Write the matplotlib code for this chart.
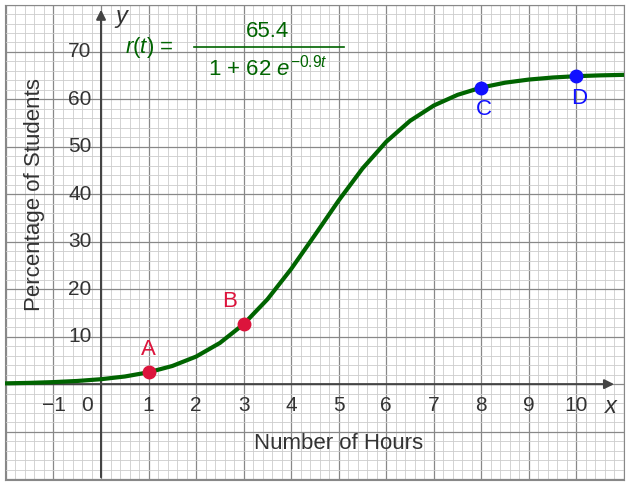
import matplotlib.pyplot as plt
import numpy as np

plt.rcParams["font.family"] = ["Liberation Sans", "DejaVu Sans"]
plt.rcParams["mathtext.fontset"] = "custom"
plt.rcParams["mathtext.rm"] = "Liberation Sans"
plt.rcParams["mathtext.it"] = "Liberation Sans:italic"

# curve samples
t_vals = [-2.0, -1.5, -1.0, -0.5, 0.0, 0.5, 1.0, 1.5, 2.0, 2.5, 3.0, 3.5, 4.0, 4.5, 5.0,
          5.5, 6.0, 6.5, 7.0, 7.5, 8.0, 8.5, 9.0, 9.5, 10.0, 10.5, 11.0]
r_vals = [0.17, 0.27, 0.43, 0.67, 1.04, 1.61, 2.50, 3.83, 5.81, 8.68, 12.65, 17.88, 24.28,
          31.44, 38.72, 45.45, 51.09, 55.49, 58.72, 60.97, 62.51, 63.53, 64.19, 64.62,
          64.90, 65.07, 65.18]

pt_labels = ["A", "B", "C", "D"]
pt_t = [1, 3, 8, 10]
pt_r = [2.5, 12.65, 62.51, 64.90]
pt_colors = ["#dc143c", "#dc143c", "#1010ff", "#1010ff"]

x_ticks = [-1, 0, 1, 2, 3, 4, 5, 6, 7, 8, 9, 10]
y_ticks = [10, 20, 30, 40, 50, 60, 70]

fig = plt.figure(figsize=(6.29, 4.87), dpi=100)
ax = fig.add_axes([5 / 629, 7 / 487, 619 / 629, 475 / 487])
ax.set_xlim(-2.02, 11.0)
ax.set_ylim(-20.2, 79.9)

# grid
for x in np.arange(-2.0, 11.01, 0.2):
    major = abs(x - round(x)) < 1e-6
    ax.axvline(x, color="#888888" if major else "#cccccc", lw=0.9 if major else 0.6, zorder=0)
for y in np.arange(-20, 80.01, 2):
    major = abs(y / 10 - round(y / 10)) < 1e-6
    ax.axhline(y, color="#888888" if major else "#cccccc", lw=0.9 if major else 0.6, zorder=0)

for s in ax.spines.values():
    s.set_color("#888888")
ax.set_xticks([])
ax.set_yticks([])

# axes with arrows
ax.annotate("", xy=(10.85, 0), xytext=(-2.02, 0),
            arrowprops=dict(arrowstyle="-|>", color="#444444", lw=1.5, mutation_scale=14))
ax.annotate("", xy=(0, 79.5), xytext=(0, -20.2),
            arrowprops=dict(arrowstyle="-|>", color="#444444", lw=1.5, mutation_scale=14))

ax.plot(t_vals, r_vals, color="#006400", lw=3, zorder=3, solid_joinstyle="round")

for lab, tx, ry, c in zip(pt_labels, pt_t, pt_r, pt_colors):
    ax.plot(tx, ry, "o", color=c, ms=9, zorder=4)
    if lab == "A":
        ax.text(tx, ry + 2.5, lab, color=c, fontsize=16, ha="center", va="bottom")
    elif lab == "B":
        ax.text(tx - 0.3, ry + 2.5, lab, color=c, fontsize=16, ha="center", va="bottom")
    else:
        ax.text(tx + 0.05, ry - 2.5, lab, color=c, fontsize=16, ha="center", va="top")

for x in x_ticks:
    lbl = "\u22121" if x == -1 else str(x)
    ax.text(x - (0.3 if x == 0 else 0), -2.5, lbl, fontsize=15, color="#333333", ha="center", va="top")
for y in y_ticks:
    ax.text(-0.2, y, str(y), fontsize=15, color="#333333", ha="right", va="center")

ax.text(10.72, -2.3, "x", fontsize=17, style="italic", color="#333333", ha="center", va="top")
ax.text(0.42, 77.5, "y", fontsize=17, style="italic", color="#333333", ha="center", va="center")

ax.text(5.0, -12.5, "Number of Hours", fontsize=16, color="#333333", ha="center", va="center")
ax.text(-1.4, 40, "Percentage of Students", fontsize=16, color="#333333",
        rotation=90, ha="center", va="center")

# formula
ax.text(0.5, 71, r"$r(t)$ =", fontsize=16, color="#006400", ha="left", va="center")
ax.plot([1.95, 5.1], [71, 71], color="#006400", lw=1.2)
ax.text(3.5, 72, "65.4", fontsize=16, color="#006400", ha="center", va="bottom")
ax.text(3.5, 69.5, r"1 + 62 $e^{-0.9t}$", fontsize=16, color="#006400", ha="center", va="top")

fig.savefig("out.png", dpi=100)
